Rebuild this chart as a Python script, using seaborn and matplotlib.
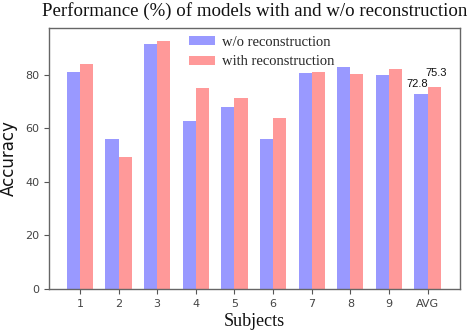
import matplotlib
matplotlib.use("Agg")
import matplotlib.pyplot as plt
import seaborn as sns
import pandas as pd

subjects = ["1", "2", "3", "4", "5", "6", "7", "8", "9", "AVG"]
without_recon = [80.9, 55.9, 91.3, 62.7, 67.8, 55.9, 80.5, 83.0, 79.7, 72.8]
with_recon = [83.8, 49.3, 92.7, 74.9, 71.4, 63.9, 80.9, 80.1, 82.1, 75.3]
series_names = ["w/o reconstruction", "with reconstruction"]

sns.set_style("ticks")

df = pd.DataFrame({
    "Subjects": subjects * 2,
    "Accuracy": without_recon + with_recon,
    "Model": [series_names[0]] * len(subjects) + [series_names[1]] * len(subjects),
})

palette = {series_names[0]: "#9999ff", series_names[1]: "#ff9999"}

fig = plt.figure(figsize=(4.74, 3.33), dpi=100)
ax = fig.add_axes([0.1034, 0.1321, 0.8671, 0.7838])

sns.barplot(data=df, x="Subjects", y="Accuracy", hue="Model", order=subjects,
            hue_order=series_names, palette=palette, width=0.68, gap=0,
            saturation=1, errorbar=None, linewidth=0, ax=ax)

ax.set_ylim(0, 97.4)
ax.set_xlim(-0.8, 9.84)
ax.set_yticks([0, 20, 40, 60, 80])

for s in ax.spines.values():
    s.set_color("#666666")
    s.set_linewidth(1.0)
ax.tick_params(axis="both", colors="#555555", labelsize=8, length=3.5, width=0.8,
               labelcolor="#444444")

ax.set_ylabel("Accuracy", fontsize=12, family="DejaVu Sans", color="#111111", labelpad=5)
ax.set_xlabel("Subjects", fontsize=13, family="Liberation Serif", color="#111111", labelpad=3)
ax.set_title("Performance (%) of models with and w/o reconstruction",
             fontsize=13.6, family="Liberation Serif", color="#111111", pad=9)

# value labels for the average group
avg_idx = subjects.index("AVG")
ax.text(avg_idx - 0.27, without_recon[avg_idx] + 1.8, f"{without_recon[avg_idx]:.1f}",
        ha="center", va="bottom", fontsize=8, family="Liberation Sans", color="#111111")
ax.text(avg_idx + 0.22, with_recon[avg_idx] + 3.6, f"{with_recon[avg_idx]:.1f}",
        ha="center", va="bottom", fontsize=8, family="Liberation Sans", color="#111111")

leg = ax.legend(loc="upper center", bbox_to_anchor=(0.518, 1.02), frameon=False,
                prop={"family": "Liberation Serif", "size": 10.5},
                handlelength=1.8, handleheight=0.55, handletextpad=0.5,
                labelspacing=0.45)

fig.savefig("out.png", dpi=100)
